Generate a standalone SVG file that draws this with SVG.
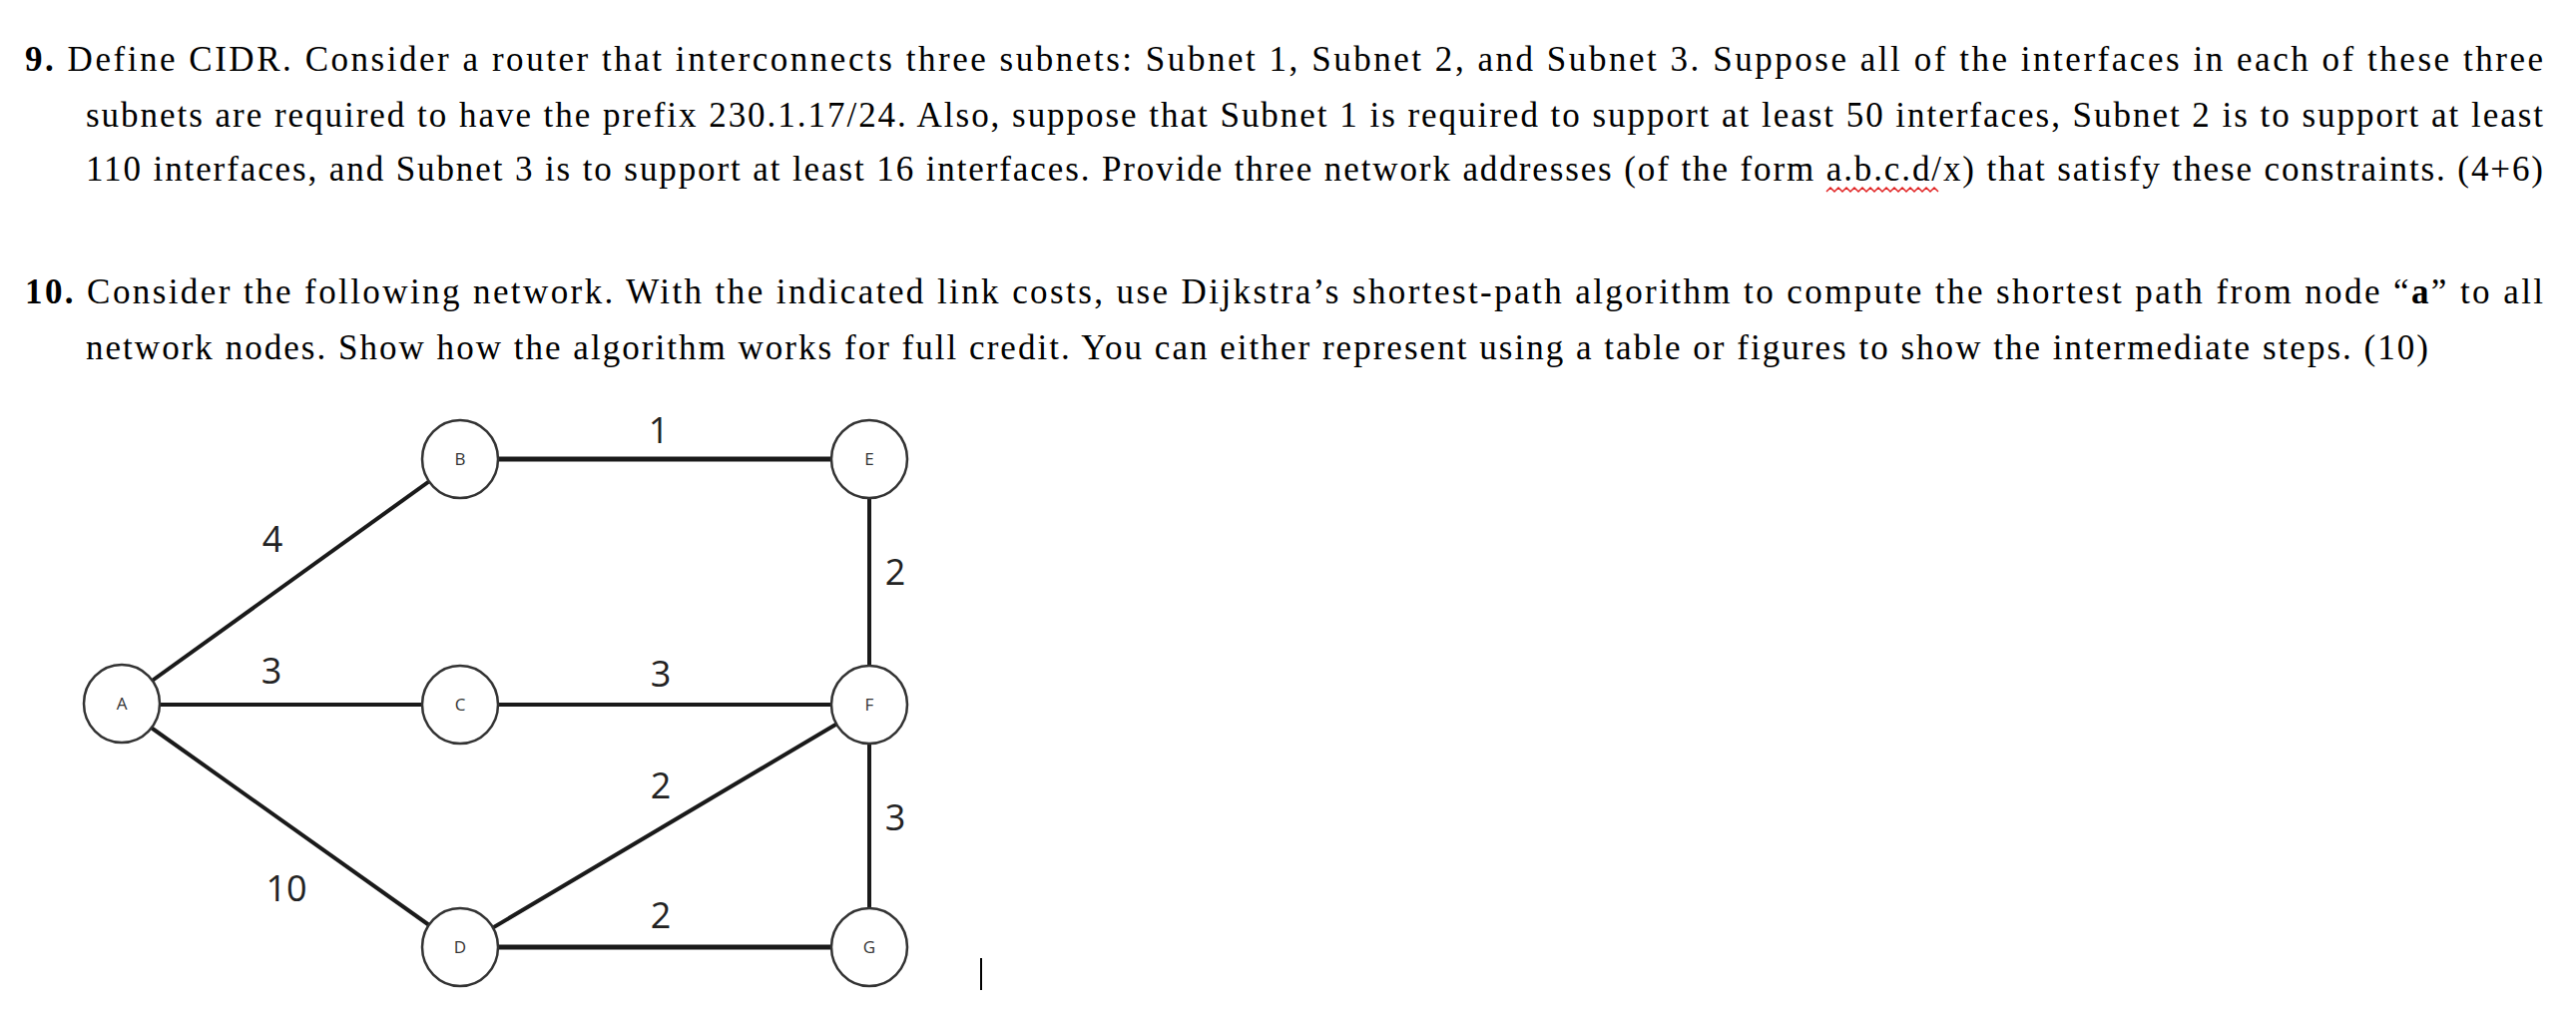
<svg xmlns="http://www.w3.org/2000/svg" width="2581" height="1017" viewBox="0 0 2581 1017">
<style>
.t{font-family:"Liberation Serif","Times New Roman",serif;font-size:35px;fill:#000}
.b{font-weight:bold}
.n ellipse{fill:#fff;stroke:#333;stroke-width:2.5}
.n text{font-family:"Open Sans","Noto Sans",sans-serif;font-size:17px;fill:#333;text-anchor:middle}
.e line{stroke:#1a1a1a;stroke-width:4}
.l{font-family:"Open Sans","Noto Sans",sans-serif;font-size:36px;fill:#222;text-anchor:middle}
</style>
<rect width="2581" height="1017" fill="#fff"/>
<text class="t" x="25" y="71" textLength="2523" lengthAdjust="spacing"><tspan class="b">9.</tspan> Define CIDR. Consider a router that interconnects three subnets: Subnet 1, Subnet 2, and Subnet 3. Suppose all of the interfaces in each of these three</text>
<text class="t" x="86" y="127" textLength="2462" lengthAdjust="spacing">subnets are required to have the prefix 230.1.17/24. Also, suppose that Subnet 1 is required to support at least 50 interfaces, Subnet 2 is to support at least</text>
<text class="t" x="86" y="181" textLength="2462" lengthAdjust="spacing">110 interfaces, and Subnet 3 is to support at least 16 interfaces. Provide three network addresses (of the form a.b.c.d/x) that satisfy these constraints. (4+6)</text>
<polyline points="1830,192 1834,188 1838,192 1842,188 1846,192 1850,188 1854,192 1858,188 1862,192 1866,188 1870,192 1874,188 1878,192 1882,188 1886,192 1890,188 1894,192 1898,188 1902,192 1906,188 1910,192 1914,188 1918,192 1922,188 1926,192 1930,188 1934,192 1938,188 1942,192" fill="none" stroke="#e02020" stroke-width="1.5"/>
<text class="t" x="25" y="304" textLength="2523" lengthAdjust="spacing"><tspan class="b">10.</tspan> Consider the following network. With the indicated link costs, use Dijkstra’s shortest-path algorithm to compute the shortest path from node “<tspan class="b">a</tspan>” to all</text>
<text class="t" x="86" y="360" textLength="2347" lengthAdjust="spacing">network nodes. Show how the algorithm works for full credit. You can either represent using a table or figures to show the intermediate steps. (10)</text>
<g id="edges" class="e">
<line x1="119" y1="706" x2="461" y2="460"/>
<line x1="119" y1="706" x2="461" y2="706"/>
<line x1="119" y1="706" x2="461" y2="949"/>
<line x1="461" y1="460" x2="871" y2="460" style="stroke-width:5"/>
<line x1="461" y1="706" x2="871" y2="706"/>
<line x1="461" y1="949" x2="871" y2="706"/>
<line x1="461" y1="949" x2="871" y2="949" style="stroke-width:5"/>
<line x1="871" y1="460" x2="871" y2="706"/>
<line x1="871" y1="706" x2="871" y2="949"/>
</g>
<g id="labels">
<text class="l" x="660" y="444">1</text>
<text class="l" x="273" y="553">4</text>
<text class="l" x="897" y="586">2</text>
<text class="l" x="272" y="685">3</text>
<text class="l" x="662" y="688">3</text>
<text class="l" x="662" y="800">2</text>
<text class="l" x="897" y="832">3</text>
<text class="l" x="287" y="903">10</text>
<text class="l" x="662" y="930">2</text>
</g>
<g id="A" class="n"><ellipse cx="122" cy="705" rx="38" ry="39"/><text x="122" y="711">A</text></g>
<g id="B" class="n"><ellipse cx="461" cy="460" rx="38" ry="39"/><text x="461" y="466">B</text></g>
<g id="C" class="n"><ellipse cx="461" cy="706" rx="38" ry="39"/><text x="461" y="712">C</text></g>
<g id="D" class="n"><ellipse cx="461" cy="949" rx="38" ry="39"/><text x="461" y="955">D</text></g>
<g id="E" class="n"><ellipse cx="871" cy="460" rx="38" ry="39"/><text x="871" y="466">E</text></g>
<g id="F" class="n"><ellipse cx="871" cy="706" rx="38" ry="39"/><text x="871" y="712">F</text></g>
<g id="G" class="n"><ellipse cx="871" cy="949" rx="38" ry="39"/><text x="871" y="955">G</text></g>
<line x1="983" y1="960" x2="983" y2="992" stroke="#000" stroke-width="2"/>
</svg>
